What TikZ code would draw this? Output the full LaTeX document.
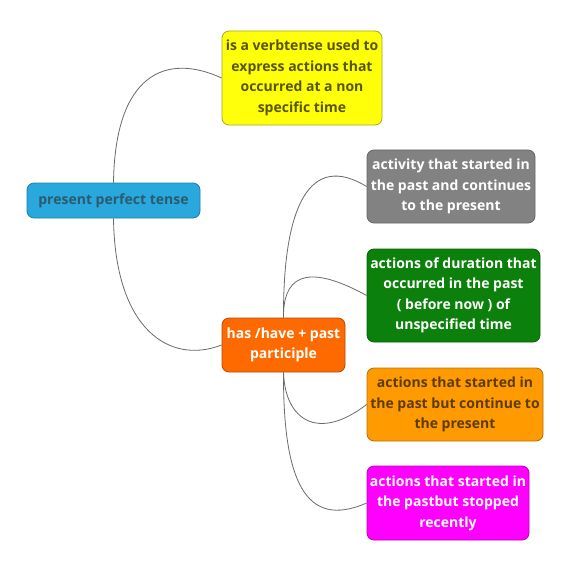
\documentclass[tikz,border=0pt]{standalone}
\usepackage{fontspec}
\setmainfont{Open Sans}
\definecolor{bluef}{HTML}{29A8DD}\definecolor{blued}{HTML}{1F7EA6}\definecolor{bluet}{HTML}{2C5A6E}
\definecolor{yelf}{HTML}{FFFF0A}\definecolor{yeld}{HTML}{A5A52B}\definecolor{yelt}{HTML}{565600}
\definecolor{grayf}{HTML}{828282}\definecolor{grayd}{HTML}{666666}
\definecolor{greenf}{HTML}{0B800B}\definecolor{greend}{HTML}{0A5F0A}
\definecolor{hasf}{HTML}{FF6A00}\definecolor{hasd}{HTML}{B84C00}
\definecolor{oraf}{HTML}{FF9A00}\definecolor{orad}{HTML}{B87000}\definecolor{orat}{HTML}{5C3C00}
\definecolor{magf}{HTML}{FF00FF}\definecolor{magd}{HTML}{B800B8}
\definecolor{linec}{HTML}{6A6A6A}
\begin{document}
\begin{tikzpicture}[x=1pt,y=-1pt,
  box/.style={draw, rounded corners=7pt, line width=0.8pt, align=center, inner sep=0pt,
    font=\bfseries\fontsize{14}{20.5}\selectfont},
  conn/.style={draw=linec, line width=0.8pt}]
\path[use as bounding box] (0,0) rectangle (572,572);
\node[box, fill=bluef, draw=blued, text=bluet, minimum width=173pt, minimum height=35pt] (root) at (113.5,200.5) {present perfect tense};
\node[box, fill=yelf, draw=yeld, text=yelt, minimum width=160pt, minimum height=94pt] (yel) at (302,78) {is a verbtense used to\\express actions that\\occurred at a non\\specific time};
\node[box, fill=hasf, draw=hasd, text=white, minimum width=123pt, minimum height=54pt] (has) at (283.5,345) {has /have + past\\participle};
\node[box, fill=grayf, draw=grayd, text=white, minimum width=168pt, minimum height=73pt] (gray) at (451,186.5) {activity that started in\\the past and continues\\to the present};
\node[box, fill=greenf, draw=greend, text=white, minimum width=173pt, minimum height=93pt] (green) at (453.5,295.5) {actions of duration that\\occurred in the past\\( before now ) of\\unspecified time};
\node[box, fill=oraf, draw=orad, text=orat, minimum width=176pt, minimum height=73pt] (ora) at (455,404.5) {actions that started in\\the past but continue to\\the present};
\node[box, fill=magf, draw=magd, text=white, minimum width=162pt, minimum height=74pt] (mag) at (448,503) {actions that started in\\the pastbut stopped\\recently};
\draw[conn] (root.north) .. controls (115,75) and (165,52) .. (yel.west);
\draw[conn] (root.south) .. controls (115,330) and (170,365) .. (has.west);
\draw[conn] (has.north) .. controls (283,205) and (310,152) .. (gray.west);
\draw[conn] (has.north) .. controls (283,280) and (302,260) .. (green.west);
\draw[conn] (has.south) .. controls (285,420) and (318,442) .. (ora.west);
\draw[conn] (has.south) .. controls (283,480) and (305,530) .. (mag.west);
\end{tikzpicture}
\end{document}
